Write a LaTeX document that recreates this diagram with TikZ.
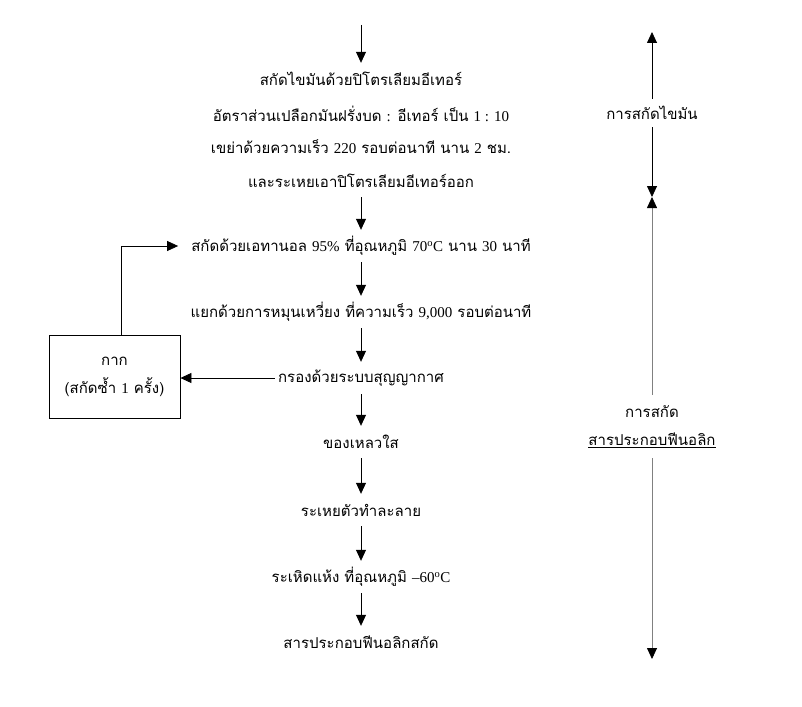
\documentclass[tikz,border=0pt]{standalone}
\usepackage{fontspec}
\setmainfont[Script=Thai]{Loma}
\newfontfamily\lat{Liberation Serif}
\usetikzlibrary{arrows.meta,calc}
\newcommand{\dg}{\textsuperscript{o}}
\begin{document}
\begin{tikzpicture}[x=1pt,y=-1pt,
  font=\fontsize{15}{17}\selectfont,
  arr/.style={-{Triangle[width=10pt,length=11pt]}, line width=0.8pt},
  grayarr/.style={draw=black!50, line width=0.8pt, -{Triangle[width=10pt,length=11pt,color=black]}},
  txt/.style={inner xsep=2pt, inner ysep=0pt, minimum height=32pt},
  lbl/.style={inner sep=0pt, minimum height=28pt},
  boxst/.style={draw, line width=0.8pt, minimum width=131pt, minimum height=83pt, align=center, inner sep=0pt}]
\useasboundingbox (0,0) rectangle (802,706);
% main column
\coordinate (top) at (361,25);
\node[txt] (t1) at (361,79) {สกัดไขมันด้วยปิโตรเลียมอีเทอร์};
\node[txt] (t2) at (361,114) {อัตราส่วนเปลือกมันฝรั่งบด {\lat :} อีเทอร์ เป็น {\lat 1 : 10}};
\node[txt] (t3) at (361,147) {เขย่าด้วยความเร็ว {\lat 220} รอบต่อนาที นาน {\lat 2} ชม.};
\node[txt] (t4) at (361,181) {และระเหยเอาปิโตรเลียมอีเทอร์ออก};
\node[txt, inner xsep=13pt] (e1) at (361,246) {สกัดด้วยเอทานอล {\lat 95\%} ที่อุณหภูมิ {\lat 70\dg C} นาน {\lat 30} นาที};
\node[txt] (e2) at (361,312) {แยกด้วยการหมุนเหวี่ยง ที่ความเร็ว {\lat 9,000} รอบต่อนาที};
\node[txt, inner xsep=3pt] (f) at (361,378) {กรองด้วยระบบสุญญากาศ};
\node[txt] (l) at (361,442) {ของเหลวใส};
\node[txt] (v) at (361,510) {ระเหยตัวทำละลาย};
\node[txt] (d) at (361,577) {ระเหิดแห้ง ที่อุณหภูมิ {\lat –60\dg C}};
\node[txt] (p) at (361,642) {สารประกอบฟีนอลิกสกัด};
\draw[arr] (top) -- (t1.north);
\draw[arr] (t4.south) -- (e1.north);
\draw[arr] (e1.south) -- (e2.north);
\draw[arr] (e2.south) -- (f.north);
\draw[arr] (f.south) -- (l.north);
\draw[arr] (l.south) -- (v.north);
\draw[arr] (v.south) -- (d.north);
\draw[arr] (d.south) -- (p.north);
% residue box and loop
\node[boxst] (box) at (114.5,376.5) {กาก\\[11pt](สกัดซ้ำ {\lat 1} ครั้ง)};
\coordinate (lx) at (121,0);
\draw[arr] (f.west) -- (f.west -| box.east);
\draw[arr] (lx |- box.north) |- (e1.west);
% right side
\coordinate (rt) at (652,32);
\coordinate (rm1) at (652,197);
\coordinate (rm2) at (652,197);
\coordinate (rb) at (652,659);
\node[lbl] (r1) at (652,113) {การสกัดไขมัน};
\node[inner sep=0pt, minimum height=63pt, align=center] (r2) at (652,426.5) {การสกัด\\[11pt]\underline{สารประกอบฟีนอลิก}};
\draw[arr] (r1.north) -- (rt);
\draw[arr] (r1.south) -- (rm1);
\draw[grayarr] (r2.north) -- (rm2);
\draw[grayarr] (r2.south) -- (rb);
\end{tikzpicture}
\end{document}
